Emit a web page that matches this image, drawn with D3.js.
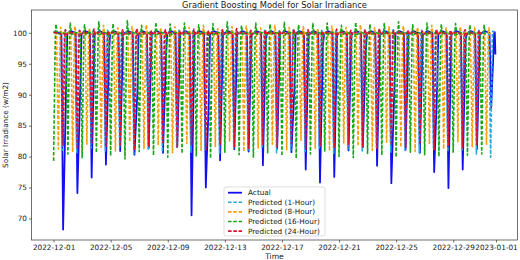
<!DOCTYPE html>
<html><head><meta charset="utf-8">
<script src="https://cdn.jsdelivr.net/npm/d3@7"></script>
<style>
body{margin:0;background:#fff}
svg{display:block}
text{font-family:"DejaVu Sans",sans-serif;fill:#1a1a1a}
</style>
</head><body>
<svg id="c" width="520" height="260"></svg>
<script>
// ---------------- data ----------------
const chartTitle = "Gradient Boosting Model for Solar Irradiance";
const xLabel = "Time";
const yLabel = "Solar Irradiance (w/m2)";
const startDay = "2022-12-01";          // hour 0 of the series
const lastHour = 743;                   // last hourly sample (2022-12-31 23:00)
const xTickLabels = ["2022-12-01","2022-12-05","2022-12-09","2022-12-13","2022-12-17","2022-12-21","2022-12-25","2022-12-29","2023-01-01"];
const yTicks = [70, 75, 80, 85, 90, 95, 100];
const seriesNames = ["Actual","Predicted (1-Hour)","Predicted (8-Hour)","Predicted (16-Hour)","Predicted (24-Hour)"];

// Actual: daily dip (hour of minimum 16), minimum value and value 5 h later (slow recoveries)
const actualDipHour = 16;
const actualMin = [68.2,74.1,76.6,78.7,80.9,80.3,81.4,80.6,81.7,70.5,75.0,79.4,81.2,80.8,78.6,81.3,80.7,77.9,75.8,76.7,81.0,81.5,78.5,75.7,81.1,80.6,77.5,74.9,77.9,81.2,88.0];
const actualRec = [91.0,91.5,100,96.0,100,90.5,100,96.0,100,100,89.0,100,100,100,99.0,100,91.0,100,98.0,100,100,97.0,100,90.5,100,100,91.0,100,99.0,100,100];
const actualTailHours = [742, 743];
const actualTailValues = [100.1, 96.5];

// Predictions: hour of daily dip, daily minimum, overshoot peak after the dip, last hour
const pred1DipHour = 15, pred1End = 742;
const pred1Min  = [81.0,80.6,81.4,80.9,81.6,80.4,81.2,80.8,81.5,80.7,81.1,80.5,81.3,80.9,81.6,80.6,81.0,80.8,81.4,80.5,81.2,80.9,81.5,80.7,81.0,80.6,81.3,80.8,81.1,80.4,79.9];
const pred1Peak = [100.4,100.3,100.5,100.4,100.3,100.5,100.4,100.3,100.4,100.5,100.3,100.4,100.5,100.3,100.4,100.4,100.5,100.3,100.4,100.5,100.3,100.4,100.4,100.5,100.3,100.4,100.5,100.3,100.4,100.4,100.3];

const pred8DipHour = 8, pred8End = 735;
const pred8Min  = [81.2,80.7,82.0,81.5,80.9,82.4,81.3,81.8,80.6,82.1,81.0,81.6,82.5,80.8,81.4,82.0,81.1,82.6,81.3,80.9,82.2,81.7,81.0,82.3,81.5,80.8,82.0,81.2,82.4,81.6,82.0];
const pred8Peak = [100.9,101.1,100.7,101.2,100.8,101.0,101.3,100.8,101.0,100.9,101.2,100.7,101.0,101.1,100.8,101.2,100.9,101.0,100.7,101.1,100.9,101.3,100.8,101.0,101.1,100.9,101.2,100.8,101.0,100.9,100.8];

const pred16DipHour = 0, pred16End = 727;
const pred16Min  = [79.3,80.4,79.8,80.6,80.1,79.6,80.8,80.2,79.9,80.5,80.0,79.7,80.7,80.3,79.8,80.6,80.1,79.7,80.4,80.9,80.0,79.8,80.5,80.2,79.9,80.7,80.3,80.0,80.6,80.2,80.4];
const pred16Peak = [101.4,101.6,101.3,101.8,101.5,102.0,101.2,101.7,101.4,101.6,101.3,101.5,101.8,101.2,101.6,101.4,101.7,101.3,101.5,101.6,101.2,101.7,101.4,101.5,101.8,101.3,101.6,101.4,101.5,101.3,101.2];

const pred24DipHour = 16, pred24End = 719;
const pred24Min  = [81.8,81.2,82.0,81.5,81.9,81.0,81.7,82.2,81.4,81.8,81.1,82.0,81.6,81.3,81.9,81.5,82.1,81.2,81.7,81.4,82.0,81.6,81.3,81.8,81.5,82.2,81.0,81.7,81.4,81.9];
const pred24Peak = [100.5,100.4,100.6,100.3,100.5,100.7,100.4,100.5,100.3,100.6,100.4,100.5,100.7,100.4,100.5,100.3,100.6,100.5,100.3,100.6,100.4,100.5,100.7,100.4,100.5,100.3,100.6,100.4,100.5,100.4];

// ---------------- build point lists ----------------
const t0 = d3.utcParse("%Y-%m-%d")(startDay).getTime();
const hourDate = h => new Date(t0 + h * 3600e3);

function buildActual() {
  const pts = [[0, 100.1]];
  actualMin.forEach((m, d) => {
    const b = 24 * d;
    pts.push([b + actualDipHour - 3, 100.0], [b + actualDipHour, m],
             [b + actualDipHour + 5, actualRec[d]], [b + actualDipHour + 7, 99.9],
             [b + actualDipHour + 13, 100.3]);
  });
  const kept = pts.filter(p => p[0] < actualTailHours[0]);
  actualTailHours.forEach((h, i) => kept.push([h, actualTailValues[i]]));
  return kept;
}
function buildPred(h, mins, peaks, end) {
  const pts = h > 0 ? [[0, 100.1]] : [];
  mins.forEach((m, d) => {
    const b = 24 * d + h;
    pts.push([b - 3, 99.8], [b, m], [b + 3, 100.1], [b + 4, peaks[d]], [b + 6, 99.7], [b + 12, 100.1]);
  });
  return pts.filter(p => p[0] >= 0 && p[0] <= end).sort((a, b) => a[0] - b[0]);
}

const series = [
  {name: seriesNames[0], pts: buildActual(), color: "#1010f0", dash: null, w: 1.8},
  {name: seriesNames[1], pts: buildPred(pred1DipHour, pred1Min, pred1Peak, pred1End), color: "#2aa6d8", dash: "3.6,1.7", w: 1.6},
  {name: seriesNames[2], pts: buildPred(pred8DipHour, pred8Min, pred8Peak, pred8End), color: "#f5a10f", dash: "3.6,1.7", w: 1.6},
  {name: seriesNames[3], pts: buildPred(pred16DipHour, pred16Min, pred16Peak, pred16End), color: "#14a814", dash: "3.6,1.7", w: 1.6},
  {name: seriesNames[4], pts: buildPred(pred24DipHour, pred24Min, pred24Peak, pred24End), color: "#dc1030", dash: "3.6,1.7", w: 1.6}
];

// ---------------- layout ----------------
const L = 31.5, R = 517.5, T = 10, B = 240;
const svg = d3.select("#c");

const span = lastHour;
const x = d3.scaleUtc()
  .domain([hourDate(-0.05 * span), hourDate(lastHour + 0.05 * span)])
  .range([L, R]);
const allV = series.flatMap(s => s.pts.map(p => p[1]));
const vMin = d3.min(allV), vMax = d3.max(allV), vPad = 0.05 * (vMax - vMin);
const y = d3.scaleLinear().domain([vMin - vPad, vMax + vPad]).range([B, T]);

svg.append("defs").append("clipPath").attr("id", "clip")
  .append("rect").attr("x", L).attr("y", T).attr("width", R - L).attr("height", B - T);

const line = d3.line().x(p => x(hourDate(p[0]))).y(p => y(p[1]));
const g = svg.append("g").attr("clip-path", "url(#clip)");
series.forEach(s => {
  g.append("path").attr("d", line(s.pts))
    .attr("fill", "none").attr("stroke", s.color).attr("stroke-width", s.w)
    .attr("stroke-dasharray", s.dash).attr("stroke-linejoin", "round");
});

// axes
const parseTick = d3.utcParse("%Y-%m-%d");
const xAxis = d3.axisBottom(x).tickValues(xTickLabels.map(parseTick))
  .tickFormat(d3.utcFormat("%Y-%m-%d")).tickSize(2.5).tickPadding(2);
const gx = svg.append("g").attr("transform", `translate(0,${B})`).call(xAxis);
const yAxis = d3.axisLeft(y).tickValues(yTicks).tickSize(2.5).tickPadding(2);
const gy = svg.append("g").attr("transform", `translate(${L},0)`).call(yAxis);
[gx, gy].forEach(a => {
  a.select(".domain").remove();
  a.selectAll("line").attr("stroke", "#333").attr("stroke-width", 0.7);
  a.selectAll("text").attr("font-size", 7.3).attr("fill", "#1a1a1a").attr("font-family", "DejaVu Sans");
});

// frame
svg.append("rect").attr("x", L).attr("y", T).attr("width", R - L).attr("height", B - T)
  .attr("fill", "none").attr("stroke", "#333").attr("stroke-width", 0.7);

// titles
svg.append("text").attr("x", (L + R) / 2).attr("y", 8).attr("text-anchor", "middle")
  .attr("font-size", 8.3).text(chartTitle);
svg.append("text").attr("x", (L + R) / 2).attr("y", 259).attr("text-anchor", "middle")
  .attr("font-size", 7.6).text(xLabel);
svg.append("text").attr("transform", `translate(8,${(T + B) / 2}) rotate(-90)`)
  .attr("text-anchor", "middle").attr("font-size", 7.3).text(yLabel);

// legend
const lg = svg.append("g").attr("transform", "translate(224,187)");
lg.append("rect").attr("width", 101).attr("height", 49).attr("rx", 2)
  .attr("fill", "#fff").attr("fill-opacity", 0.85).attr("stroke", "#d0d0d0").attr("stroke-width", 0.7);
series.forEach((s, i) => {
  const yy = 5.7 + i * 9.6;
  lg.append("line").attr("x1", 4).attr("x2", 18).attr("y1", yy).attr("y2", yy)
    .attr("stroke", s.color).attr("stroke-width", s.w).attr("stroke-dasharray", s.dash);
  lg.append("text").attr("x", 24).attr("y", yy).attr("dy", "0.35em")
    .attr("font-size", 7.3).text(s.name);
});
</script>
</body></html>
